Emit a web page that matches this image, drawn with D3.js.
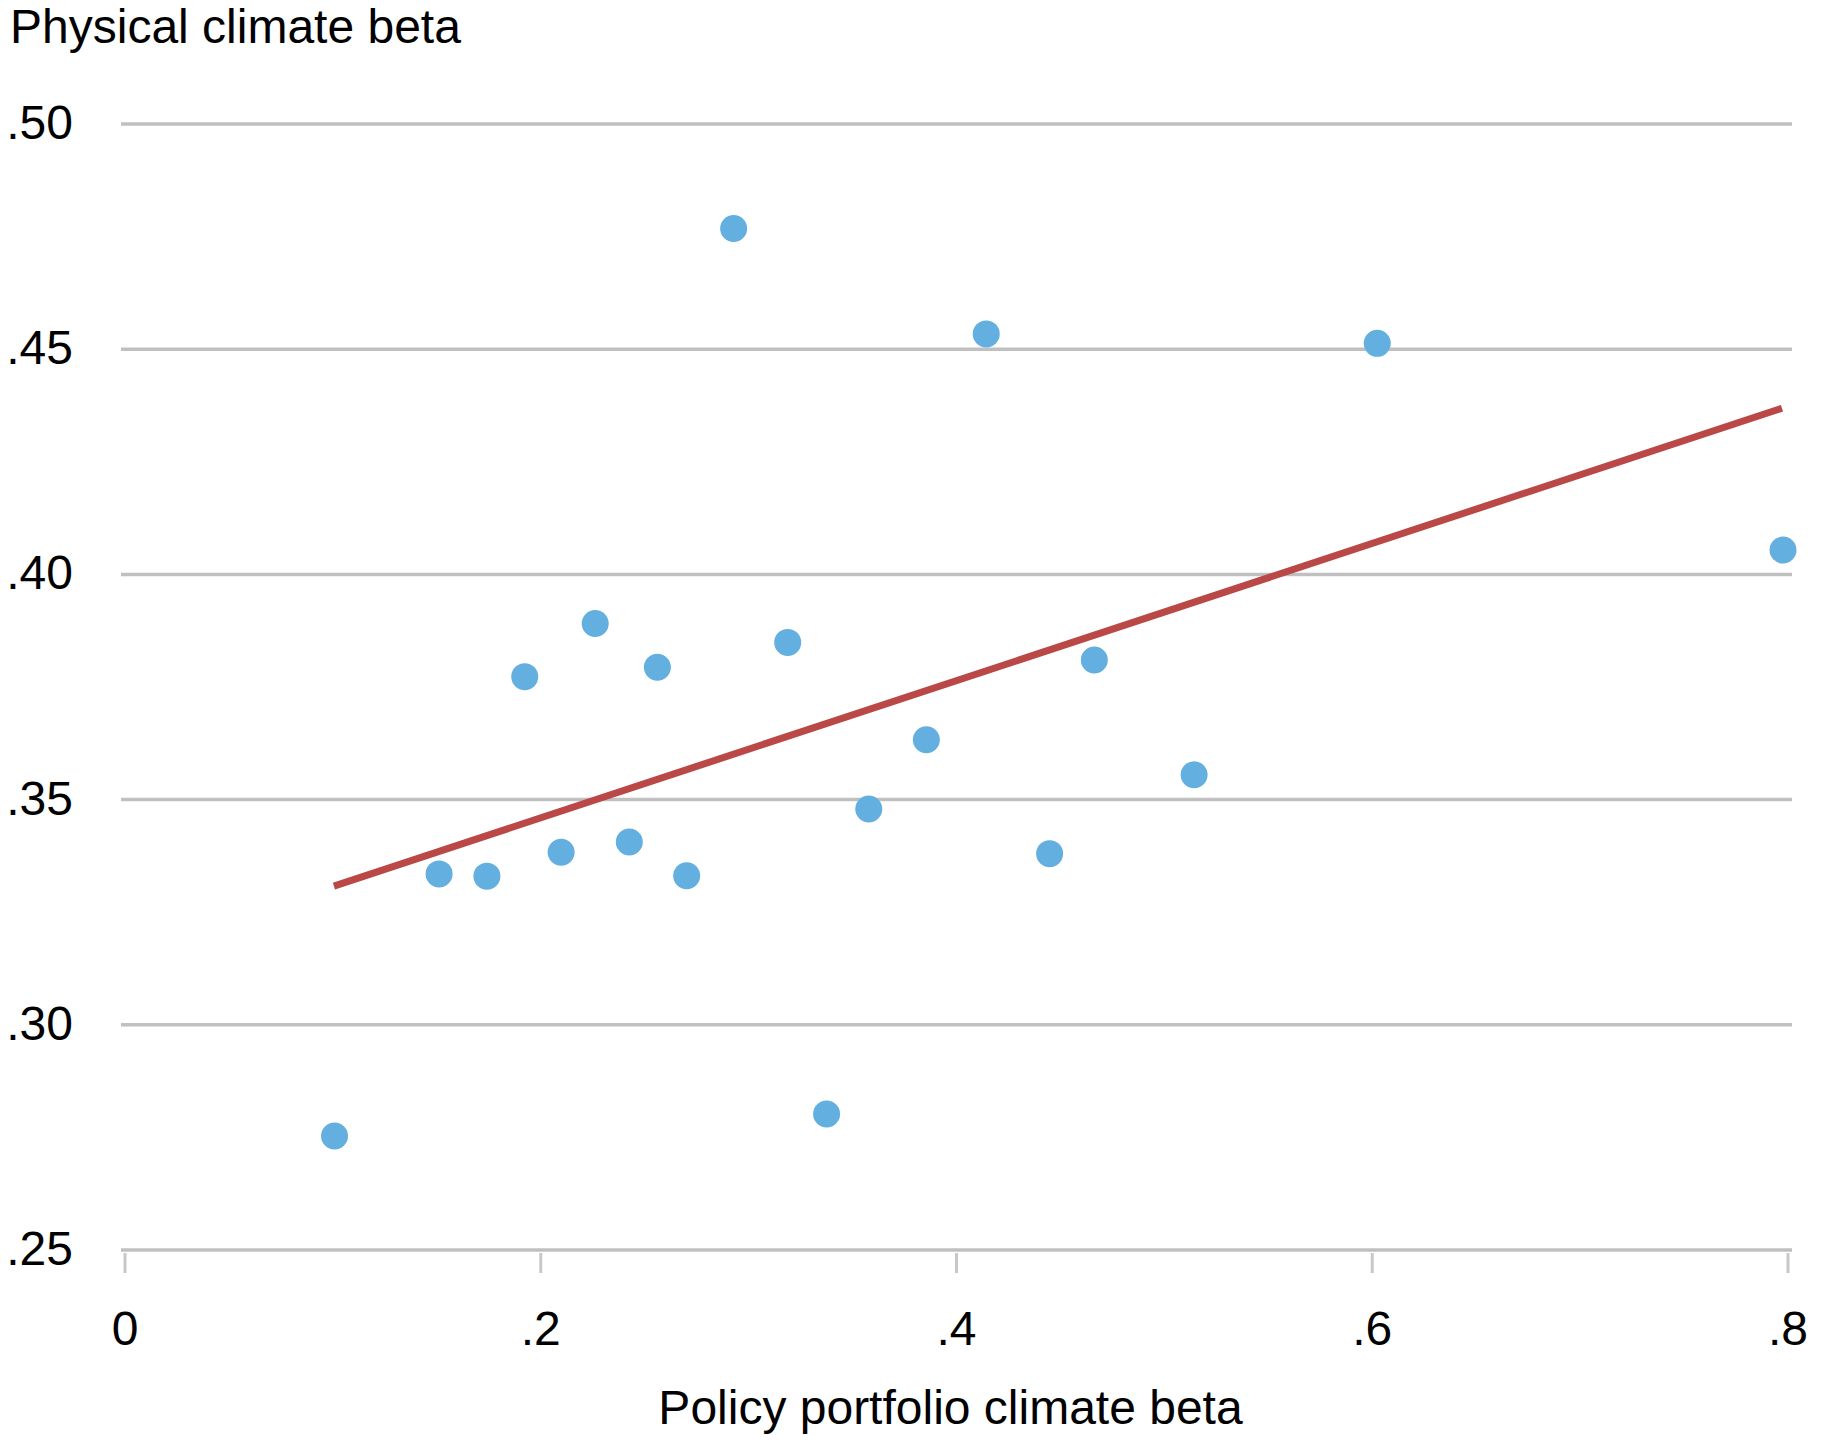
<!DOCTYPE html>
<meta charset="utf-8">
<head>
    <script type="text/javascript" src="https://d3js.org/d3.v7.min.js"></script>
    <style>
        body { margin: 0; background: #fff; }
        text { font-family: "Liberation Sans", Arial, sans-serif; fill: #000; }
    </style>
</head>
<body>
    <div id="chart"></div>
    <script>

        // points
        let policyBeta = [0.1008, 0.1511, 0.1741, 0.1923, 0.2098, 0.2262, 0.2426, 0.2561, 0.2702, 0.2928,
            0.3188, 0.3375, 0.3578, 0.3855, 0.4143, 0.4448, 0.4663, 0.5143, 0.6024, 0.7976]
        let physicalBeta = [0.2753, 0.3335, 0.3330, 0.3773, 0.3383, 0.3891, 0.3406, 0.3794, 0.3331, 0.4768,
            0.3849, 0.2802, 0.3479, 0.3633, 0.4534, 0.3380, 0.3810, 0.3555, 0.4513, 0.4054]

        // fitted line end points
        let fitX = [0.1005, 0.7971]
        let fitY = [0.3308, 0.4369]

        let xTicks = [0, 0.2, 0.4, 0.6, 0.8]
        let xTickLabels = ['0', '.2', '.4', '.6', '.8']
        let yTicks = [0.25, 0.30, 0.35, 0.40, 0.45, 0.50]
        let yTickLabels = ['.25', '.30', '.35', '.40', '.45', '.50']

        let yTitle = 'Physical climate beta'
        let xTitle = 'Policy portfolio climate beta'

        let svg_width = 1840
        let svg_height = 1443
        let padding = { top: 124, right: 52, bottom: 193, left: 125 }

        let svg = d3.select('#chart')
            .append('svg')
            .attr('width', svg_width)
            .attr('height', svg_height)

        let x = d3.scaleLinear()
            .domain([0, 0.8])
            .range([padding.left, svg_width - padding.right])

        let y = d3.scaleLinear()
            .domain([0.25, 0.50])
            .range([svg_height - padding.bottom, padding.top])

        // horizontal grid lines
        svg.append('g')
            .selectAll('line')
            .data(yTicks)
            .enter()
            .append('line')
            .attr('x1', x(0) - 4)
            .attr('x2', x(0.8) + 4)
            .attr('y1', d => y(d))
            .attr('y2', d => y(d))
            .attr('stroke', '#c0c0c0')
            .attr('stroke-width', 3.5)

        // y labels
        svg.append('g')
            .selectAll('text')
            .data(yTicks)
            .enter()
            .append('text')
            .attr('x', 73)
            .attr('y', d => y(d) + 15)
            .attr('text-anchor', 'end')
            .style('font-size', '48px')
            .text((d, i) => yTickLabels[i])

        // x ticks
        svg.append('g')
            .selectAll('line')
            .data(xTicks)
            .enter()
            .append('line')
            .attr('x1', d => x(d))
            .attr('x2', d => x(d))
            .attr('y1', y(0.25) + 3)
            .attr('y2', y(0.25) + 23)
            .attr('stroke', '#c8c8c8')
            .attr('stroke-width', 3)

        svg.append('g')
            .selectAll('text')
            .data(xTicks)
            .enter()
            .append('text')
            .attr('x', d => x(d))
            .attr('y', y(0.25) + 95)
            .attr('text-anchor', 'middle')
            .style('font-size', '48px')
            .text((d, i) => xTickLabels[i])

        // fit line
        svg.append('line')
            .attr('x1', x(fitX[0]))
            .attr('y1', y(fitY[0]))
            .attr('x2', x(fitX[1]))
            .attr('y2', y(fitY[1]))
            .attr('stroke', '#b94846')
            .attr('stroke-width', 7)

        // points
        svg.append('g')
            .selectAll('circle')
            .data(policyBeta)
            .enter()
            .append('circle')
            .attr('cx', d => x(d))
            .attr('cy', (d, i) => y(physicalBeta[i]))
            .attr('r', 13.5)
            .attr('fill', '#62afe0')

        // titles
        svg.append('text')
            .attr('x', 10)
            .attr('y', 43)
            .style('font-size', '48px')
            .text(yTitle)

        svg.append('text')
            .attr('x', (x(0) + x(0.8)) / 2 - 6)
            .attr('y', 1424)
            .attr('text-anchor', 'middle')
            .style('font-size', '48px')
            .text(xTitle)

    </script>
</body>
</html>
